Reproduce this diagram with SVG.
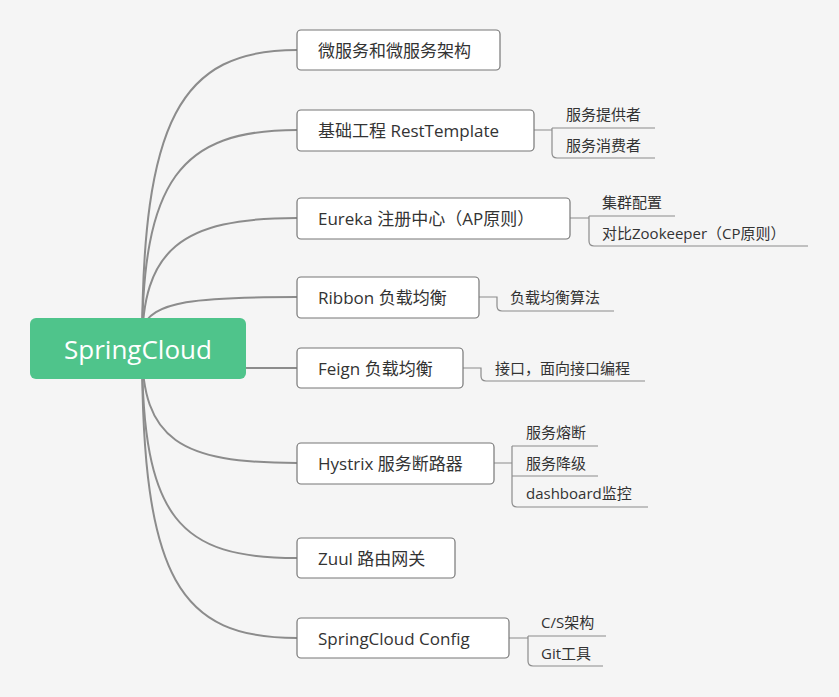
<svg xmlns="http://www.w3.org/2000/svg" width="839" height="697" viewBox="0 0 839 697">
<style>
text{font-family:"Open Sans","Noto Sans CJK SC",sans-serif;fill:#333}
.n rect{fill:#fff;stroke:#777;stroke-width:1.2}
.n text{font-size:17px;dominant-baseline:central}
.c{font-size:15px}
#links path{fill:none;stroke:#8c8c8c;stroke-width:2}
#subs path{fill:none;stroke:#8c8c8c;stroke-width:1.2}
</style>
<rect width="839" height="697" fill="#f5f5f5"/>
<g id="links">
<path d="M142,348 C142,120 180,50 297,50"/>
<path d="M142,348 C142,180 180,130 297,130"/>
<path d="M142,348 C142,250 180,218 297,218"/>
<path d="M142,330 C150,300 200,297 297,297"/>
<path d="M142,365 C150,368 200,368 297,368"/>
<path d="M142,348 C142,440 180,463 297,463"/>
<path d="M142,348 C142,520 180,558 297,558"/>
<path d="M142,348 C142,580 180,638 297,638"/>
</g>
<g id="subs">
<path d="M534,130 H552 M552,128 V153 Q552,158 557,158 H655 M552,128 H655"/>
<path d="M570,218 H589 M589,216 V241 Q589,246 594,246 H808 M589,216 H675"/>
<path d="M479,297 H497 V306 Q497,311 502,311 H614"/>
<path d="M463,368 H481 V376 Q481,381 486,381 H645"/>
<path d="M494,463 H512 M512,446 V502 Q512,507 517,507 H648 M512,446 H598 M512,476 H598"/>
<path d="M509,638 H528 M528,636 V661 Q528,666 533,666 H603 M528,636 H606"/>
</g>
<g id="root"><rect x="30" y="318" width="216" height="61" rx="6" fill="#4fc48b"/><text x="138" y="349" text-anchor="middle" dominant-baseline="central" style="font-size:26px;fill:#fff">SpringCloud</text></g>
<g id="n1" class="n"><rect x="297" y="30" width="203" height="40" rx="4"/><text x="318" y="50">微服务和微服务架构</text></g>
<g id="n2" class="n"><rect x="297" y="110" width="237" height="41" rx="4"/><text x="318" y="130">基础工程 RestTemplate</text></g>
<g id="n3" class="n"><rect x="297" y="198" width="273" height="41" rx="4"/><text x="318" y="218">Eureka 注册中心（AP原则）</text></g>
<g id="n4" class="n"><rect x="297" y="277" width="182" height="41" rx="4"/><text x="318" y="297">Ribbon 负载均衡</text></g>
<g id="n5" class="n"><rect x="297" y="348" width="166" height="40" rx="4"/><text x="318" y="368">Feign 负载均衡</text></g>
<g id="n6" class="n"><rect x="297" y="443" width="197" height="41" rx="4"/><text x="318" y="463">Hystrix 服务断路器</text></g>
<g id="n7" class="n"><rect x="297" y="538" width="158" height="40" rx="4"/><text x="318" y="558">Zuul 路由网关</text></g>
<g id="n8" class="n"><rect x="297" y="618" width="212" height="40" rx="4"/><text x="318" y="638">SpringCloud Config</text></g>
<g id="children">
<text class="c" x="566" y="120">服务提供者</text>
<text class="c" x="566" y="151">服务消费者</text>
<text class="c" x="602" y="208">集群配置</text>
<text class="c" x="602" y="239">对比Zookeeper（CP原则）</text>
<text class="c" x="510" y="303">负载均衡算法</text>
<text class="c" x="495" y="374">接口，面向接口编程</text>
<text class="c" x="526" y="438">服务熔断</text>
<text class="c" x="526" y="469">服务降级</text>
<text class="c" x="526" y="499">dashboard监控</text>
<text class="c" x="541" y="628">C/S架构</text>
<text class="c" x="541" y="659">Git工具</text>
</g>
</svg>
